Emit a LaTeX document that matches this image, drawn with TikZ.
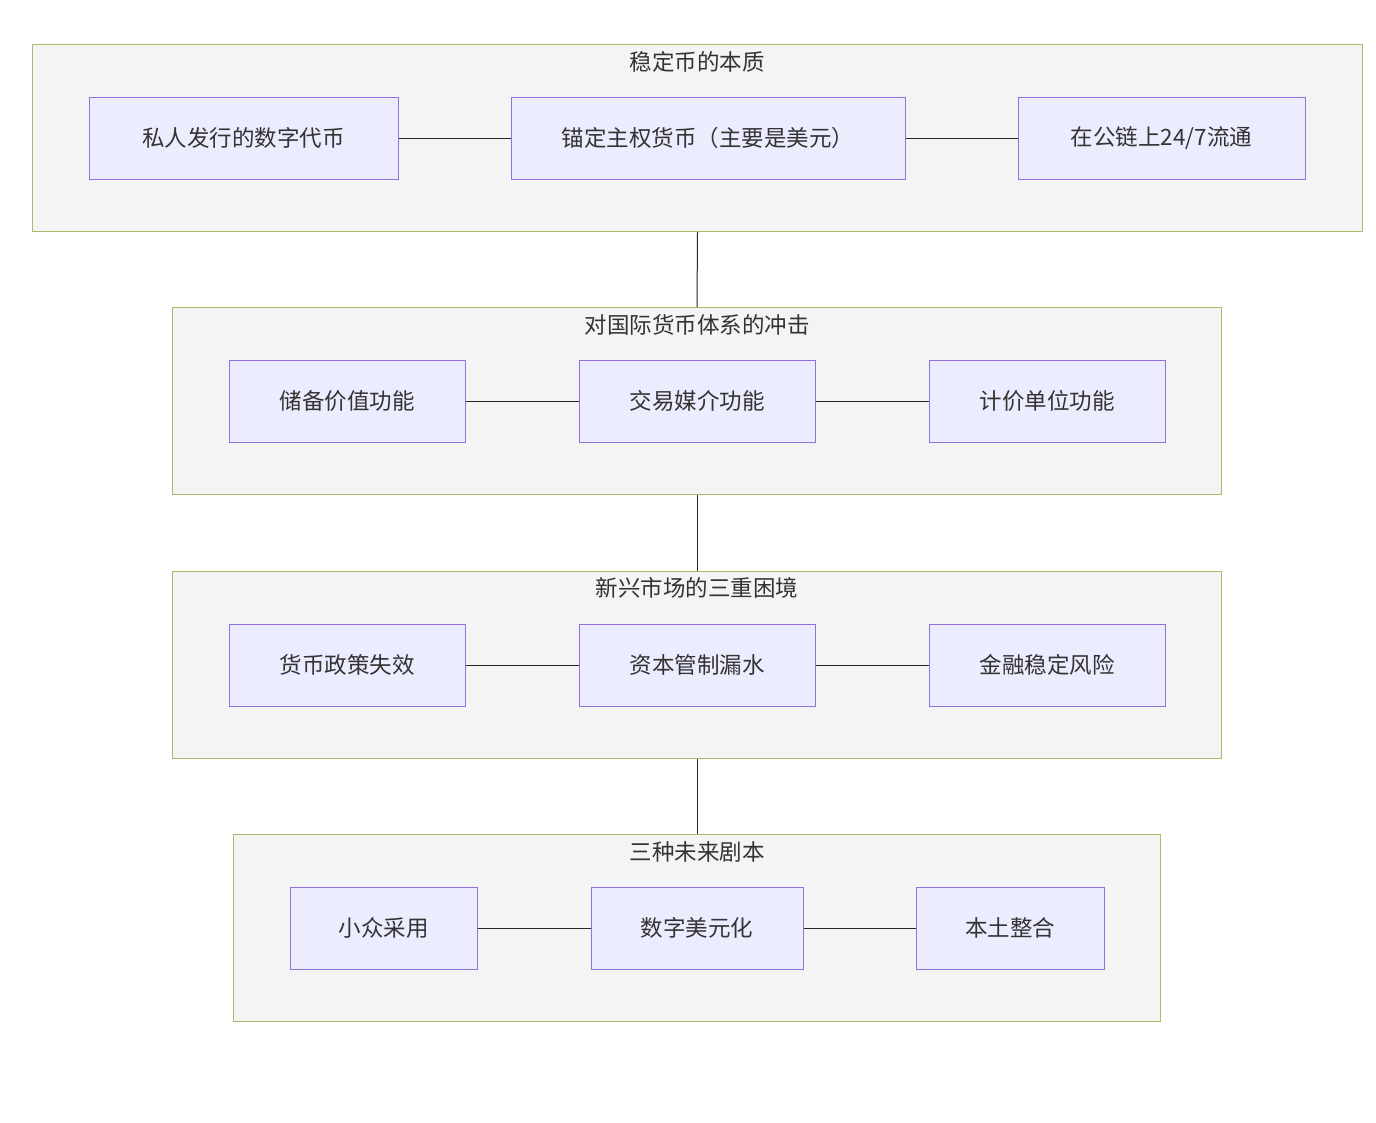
\documentclass[tikz,border=0pt]{standalone}
\usepackage{fontspec}
\setmainfont{Noto Sans CJK SC}
\definecolor{cfill}{HTML}{F4F4F4}
\definecolor{cdraw}{HTML}{B5B56A}
\definecolor{nfill}{HTML}{ECECFF}
\definecolor{ndraw}{HTML}{9370DB}
\definecolor{tx}{HTML}{333333}
\tikzset{
 grp/.style={draw=cdraw,fill=cfill,line width=1pt},
 box/.style={draw=ndraw,fill=nfill,line width=1pt,text=tx,font=\fontsize{22.5}{26}\selectfont},
 ttl/.style={text=tx,font=\fontsize{22.5}{26}\selectfont},
 ln/.style={draw=black!85,line width=1pt}
}
\begin{document}
\begin{tikzpicture}[x=1pt,y=-1pt]
\useasboundingbox (0,0) rectangle (1376,1122);
\fill[white] (0,0) rectangle (1376,1122);
% containers
\node[grp,minimum width=1330,minimum height=187,anchor=north west] (g1) at (32,44) {};
\node[grp,minimum width=1049,minimum height=187,anchor=north west] (g2) at (172,307) {};
\node[grp,minimum width=1049,minimum height=187,anchor=north west] (g3) at (172,571) {};
\node[grp,minimum width=927,minimum height=187,anchor=north west] (g4) at (233,834) {};
\node[ttl] (t1) at (697,62) {稳定币的本质};
\node[ttl] (t2) at (697,325) {对国际货币体系的冲击};
\node[ttl] (t3) at (697,588) {新兴市场的三重困境};
\node[ttl] (t4) at (697,852) {三种未来剧本};
\draw[ln] (g1.south) -- (g2.north);
\draw[ln] (g2.south) -- (g3.north);
\draw[ln] (g3.south) -- (g4.north);
% row 1
\node[box,minimum width=309,minimum height=82] (a1) at (243.5,138) {私人发行的数字代币};
\node[box,minimum width=394,minimum height=82] (a2) at (708,138) {锚定主权货币（主要是美元）};
\node[box,minimum width=287,minimum height=82] (a3) at (1161.5,138) {在公链上24/7流通};
% row 2
\node[box,minimum width=236,minimum height=82] (b1) at (347,401) {储备价值功能};
\node[box,minimum width=236,minimum height=82] (b2) at (697,401) {交易媒介功能};
\node[box,minimum width=236,minimum height=82] (b3) at (1047,401) {计价单位功能};
% row 3
\node[box,minimum width=236,minimum height=82] (c1) at (347,665) {货币政策失效};
\node[box,minimum width=236,minimum height=82] (c2) at (697,665) {资本管制漏水};
\node[box,minimum width=236,minimum height=82] (c3) at (1047,665) {金融稳定风险};
% row 4
\node[box,minimum width=187,minimum height=82] (d1) at (383.5,928) {小众采用};
\node[box,minimum width=212,minimum height=82] (d2) at (697,928) {数字美元化};
\node[box,minimum width=188,minimum height=82] (d3) at (1010,928) {本土整合};
\foreach \p/\q in {a1/a2,a2/a3,b1/b2,b2/b3,c1/c2,c2/c3,d1/d2,d2/d3}
  \draw[ln] (\p) -- (\q);
\end{tikzpicture}
\end{document}
